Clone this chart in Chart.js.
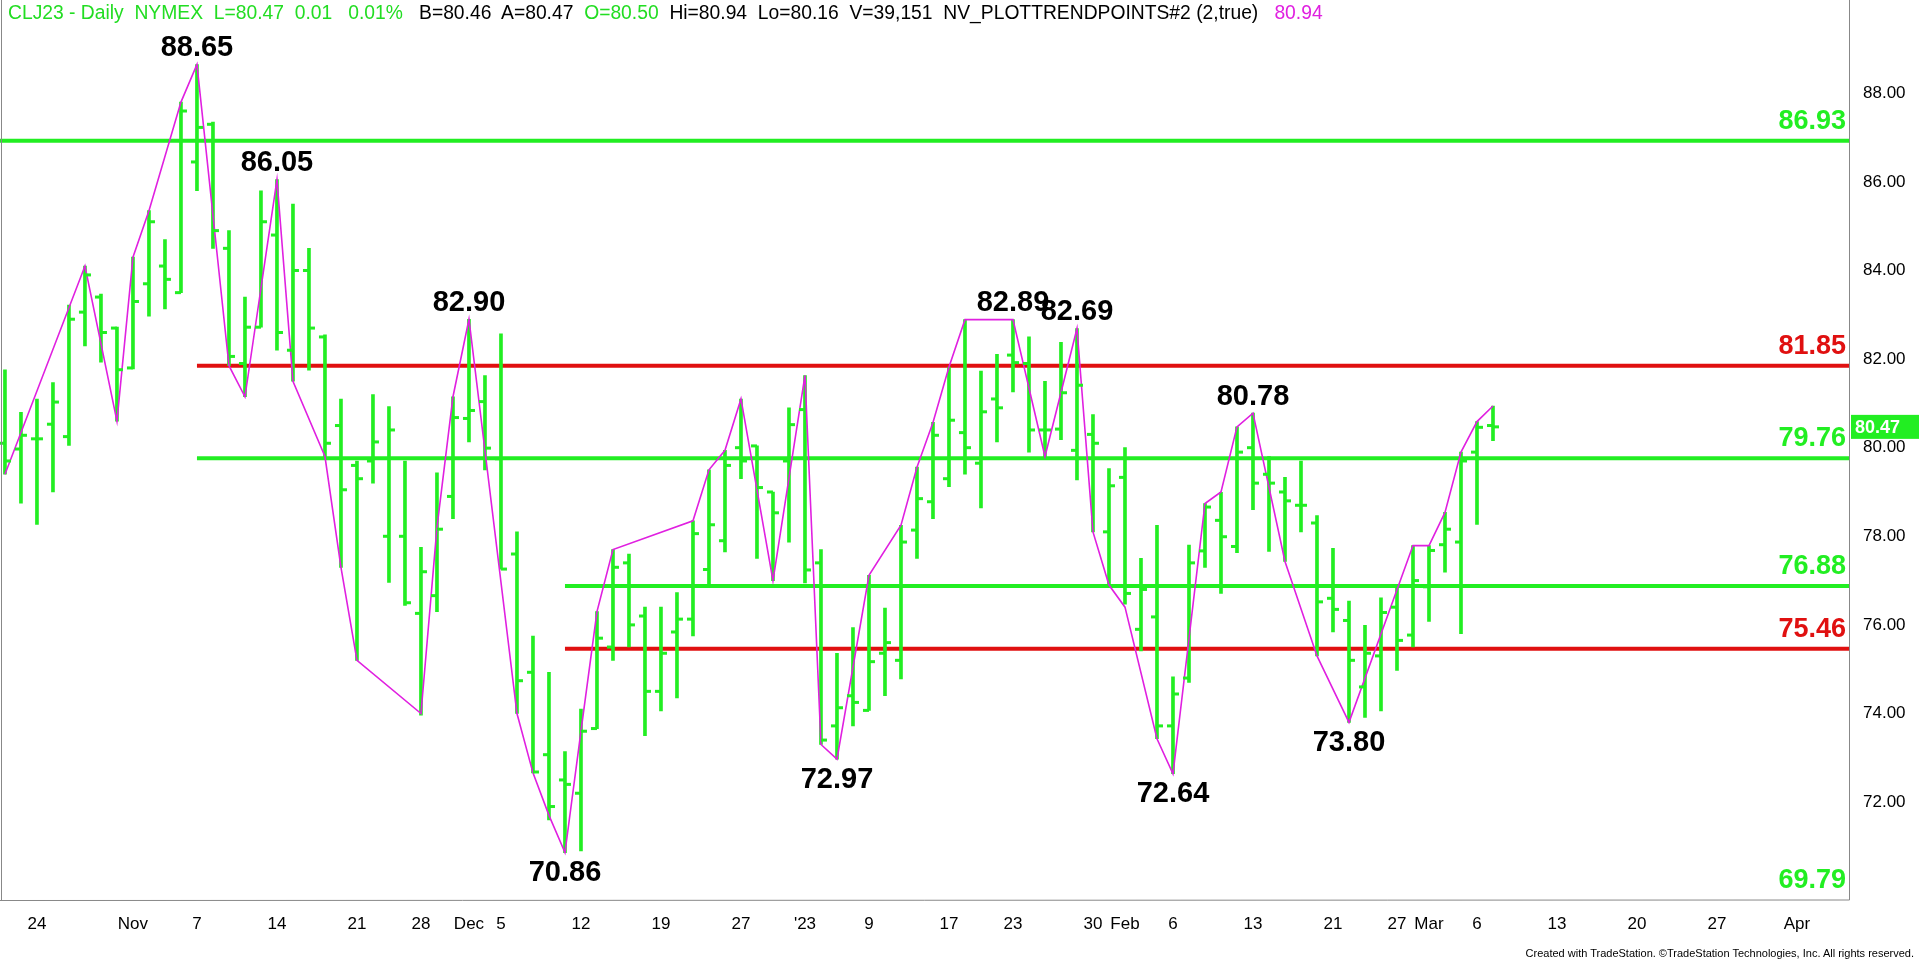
<!DOCTYPE html>
<html><head><meta charset="utf-8">
<script src="https://cdn.jsdelivr.net/npm/chart.js@4"></script>
<style>html,body{margin:0;padding:0;background:#fff;overflow:hidden}#wrap{position:absolute;left:0;top:0;width:1920px;height:963px}
#title{position:absolute;left:8px;top:2px;font:19.3px "Liberation Sans",Arial,sans-serif;white-space:pre;z-index:2}
#foot{position:absolute;right:6px;bottom:4px;font:11px "Liberation Sans",Arial,sans-serif;color:#000}</style>
</head><body><div id="wrap"><canvas id="c" width="1920" height="963"></canvas>
<div id="title"><span style="color:#22dd22">CLJ23 - Daily  NYMEX  L=80.47  0.01   0.01%</span>   <span>B=80.46  A=80.47</span>  <span style="color:#22dd22">O=80.50</span>  <span>Hi=80.94  Lo=80.16  V=39,151  NV_PLOTTRENDPOINTS#2 (2,true)</span>   <span style="color:#e020e0">80.94</span></div>
<div id="foot">Created with TradeStation. ©TradeStation Technologies, Inc. All rights reserved.</div></div>
<script>
const opens=[80.1,79.97,80.2,80.53,80.25,83.06,83.4,82.7,81.8,83.7,84.1,83.5,86.45,87.3,84.5,81.9,82.72,84.8,82.2,84.0,82.5,80.5,79.6,79.7,78.0,78.0,76.26,76.66,78.9,80.66,81.04,79.75,77.6,74.93,73.07,72.5,72.2,73.66,75.5,77.4,76.2,74.5,75.84,76.13,77.25,77.9,80.0,80.04,79.0,79.7,80.86,77.4,73.72,74.4,74.07,75.36,75.2,78.14,78.78,79.3,80.34,79.65,81.1,82.09,81.9,80.4,80.42,79.94,80.3,78.1,79.33,75.9,76.18,73.72,74.8,77.67,78.36,77.77,80.0,79.4,79.0,78.7,78.3,76.6,76.1,74.6,75.3,76.4,75.77,76.86,77.81,77.87,79.9,80.5];
const highs=[81.76,80.8,81.1,81.47,83.22,84.1,83.47,82.72,84.3,85.35,84.7,87.8,88.65,87.35,84.9,83.4,85.8,86.05,85.5,84.5,82.55,81.1,79.7,81.2,80.93,79.7,77.75,79.43,81.15,82.9,81.63,82.57,78.1,75.75,74.93,73.14,74.1,76.3,77.7,77.6,76.4,76.4,76.73,78.35,79.5,79.94,81.1,80.04,79.0,80.9,81.63,77.7,75.36,75.94,77.12,76.38,78.25,79.56,80.57,81.82,82.89,81.73,82.11,82.89,82.5,81.5,82.38,82.69,80.75,79.53,80.0,77.5,78.25,74.83,77.8,78.74,78.99,80.47,80.78,79.8,79.33,79.7,78.47,77.73,76.54,75.99,76.61,76.85,77.79,77.79,78.54,79.9,80.59,80.94];
const lows=[79.4,78.75,78.27,79.0,80.05,82.3,81.93,80.6,81.78,82.97,83.13,83.5,85.8,84.5,81.85,81.15,82.72,82.2,81.5,81.75,79.8,77.3,75.2,79.2,76.96,76.44,73.96,76.3,78.4,80.13,79.5,77.26,74.0,72.66,71.6,70.86,70.9,73.66,75.2,75.5,73.5,74.06,74.35,75.75,76.9,77.65,79.3,77.5,77.0,77.87,76.95,73.3,72.97,73.72,74.07,74.4,74.78,77.5,78.4,79.12,79.4,78.64,80.13,81.26,79.9,79.8,80.18,79.27,78.1,76.9,76.47,75.41,73.43,72.64,74.7,77.3,76.71,77.63,78.6,77.66,77.43,78.1,75.3,75.84,73.8,73.91,74.06,74.97,75.5,76.08,77.19,75.8,78.27,80.16];
const closes=[79.7,80.28,80.2,81.03,82.9,83.9,82.6,81.76,83.3,85.1,83.8,87.6,87.23,84.9,82.06,82.72,85.1,82.6,84.0,82.7,80.1,79.05,79.3,80.13,80.4,76.5,77.2,78.16,80.68,80.84,79.99,77.26,74.74,72.68,71.9,72.4,73.6,75.7,77.3,76.0,74.5,75.36,76.13,78.06,78.26,79.6,79.7,79.1,78.53,80.52,77.24,73.4,74.13,74.25,75.17,75.6,77.87,78.85,80.28,80.62,80.0,80.81,80.9,81.92,80.4,80.4,81.24,81.41,80.1,79.14,76.71,76.8,73.72,74.44,77.4,78.66,77.99,79.9,79.2,79.2,78.8,78.7,76.52,76.35,75.2,75.36,76.28,75.65,77.0,77.68,78.16,79.7,80.46,80.47];
const trendIdx=[0,5,7,8,9,11,12,14,15,17,18,20,21,22,26,27,28,29,32,33,34,35,36,37,38,43,44,45,46,48,50,51,52,54,56,57,58,59,60,63,65,67,68,69,70,72,73,75,76,77,78,80,82,84,88,89,90,91,92,93];
const trendVal=[79.4,84.1,80.6,84.3,85.35,87.8,88.65,81.85,81.15,86.05,81.5,79.8,77.3,75.2,74.0,78.2,81.15,82.9,74.0,72.66,71.7,70.86,73.6,76.3,77.7,78.35,79.5,79.94,81.1,77.0,81.63,73.3,72.97,77.12,78.25,79.56,80.57,81.82,82.89,82.89,79.8,82.69,78.1,76.9,76.4,73.43,72.64,78.74,79.0,80.47,80.78,77.43,75.3,73.8,77.79,77.79,78.54,79.9,80.59,80.94];
const pivotIdx=[12,17,29,35,52,63,67,73,78,84];
const pivotText=["88.65","86.05","82.90","70.86","72.97","82.89","82.69","72.64","80.78","73.80"];
const pivotVal=[88.65,86.05,82.9,70.86,72.97,82.89,82.69,72.64,80.78,73.8];
const pivotHigh=[true,true,true,false,false,true,true,false,true,false];
const levelVal=[86.93,81.85,79.76,76.88,75.46];
const levelStart=[-0.4,12,12,35,35];
const levelColor=["#22ee22","#e01010","#22ee22","#22ee22","#e01010"];
const xTickIdx=[2,8,12,17,22,26,29,31,36,41,46,50,54,59,63,68,70,73,78,83,87,89,92,97,102,107,112];
const xTickLabels=["24","Nov","7","14","21","28","Dec","5","12","19","27","'23","9","17","23","30","Feb","6","13","21","27","Mar","6","13","20","27","Apr"];
const yTicks=[72,74,76,78,80,82,84,86,88];
const lastPrice=80.47;
const X_MIN=-0.31,X_MAX=115.25;
const GREEN="#22ee22";

const bars=highs.map((h,i)=>({x:i,y:[lows[i],h]}));
const trend=trendIdx.map((x,i)=>({x,y:trendVal[i]}));
const levelSets=levelVal.map((v,i)=>({type:'line',data:[{x:levelStart[i],y:v},{x:X_MAX,y:v}],borderColor:levelColor[i],borderWidth:4,pointRadius:0,order:3}));

const ohlcTicks={id:'ohlc',afterDatasetsDraw(ch){const c=ch.ctx,xs=ch.scales.x,ys=ch.scales.y;c.save();c.fillStyle=GREEN;
 for(let i=0;i<opens.length;i++){const x=xs.getPixelForValue(i);c.fillRect(x-6,ys.getPixelForValue(opens[i])-1.5,6,3);c.fillRect(x,ys.getPixelForValue(closes[i])-1.5,6,3);}c.restore();}};
const labels={id:'labels',afterDraw(ch){const c=ch.ctx,xs=ch.scales.x,ys=ch.scales.y,a=ch.chartArea;c.save();
 c.font='bold 29px "Liberation Sans",Arial,sans-serif';c.fillStyle='#000';c.textAlign='center';
 pivotIdx.forEach((p,i)=>{const x=xs.getPixelForValue(p),y=ys.getPixelForValue(pivotVal[i]);c.textBaseline=pivotHigh[i]?'bottom':'top';c.fillText(pivotText[i],x,pivotHigh[i]?y-2:y+6);});
 c.font='bold 27px "Liberation Sans",Arial,sans-serif';c.textAlign='right';c.textBaseline='bottom';
 levelVal.forEach((v,i)=>{c.fillStyle=levelColor[i];c.fillText(v.toFixed(2),a.right-3,ys.getPixelForValue(v)-6);});
 c.fillStyle=GREEN;c.fillText('69.79',a.right-3,a.bottom-6);
 const yl=ys.getPixelForValue(lastPrice);c.fillStyle=GREEN;c.fillRect(a.right+2,yl-12,68,24);c.fillStyle='#fff';c.font='bold 18px "Liberation Sans",Arial,sans-serif';c.textAlign='left';c.textBaseline='middle';c.fillText(lastPrice.toFixed(2),a.right+6,yl+1);
 c.strokeStyle='#888';c.lineWidth=1;c.beginPath();c.moveTo(a.right+0.5,0);c.lineTo(a.right+0.5,a.bottom);c.lineTo(0,a.bottom+0.5);c.moveTo(1.5,0);c.lineTo(1.5,a.bottom);c.stroke();
 c.restore();}};

new Chart(document.getElementById('c'),{type:'bar',
 data:{datasets:[{type:'bar',data:bars,backgroundColor:GREEN,barThickness:3,order:2},
  {type:'line',data:trend,borderColor:'#e020e0',borderWidth:1.6,pointRadius:0,order:1},...levelSets]},
 options:{responsive:false,animation:false,events:[],layout:{padding:0},
  plugins:{legend:{display:false},tooltip:{enabled:false}},
  scales:{x:{type:'linear',min:X_MIN,max:X_MAX,offset:false,grid:{display:false},border:{display:false},
     afterBuildTicks(s){s.ticks=xTickIdx.map(v=>({value:v}));},
     afterFit(s){s.height=63;},
     ticks:{autoSkip:false,maxRotation:0,color:'#000',font:{size:17,family:'"Liberation Sans",Arial'},padding:6,callback(v){const k=xTickIdx.indexOf(v);return k>=0?xTickLabels[k]:'';}}},
   y:{position:'right',min:69.79,max:89.74,grid:{display:false},border:{display:false},
     afterBuildTicks(s){s.ticks=yTicks.map(v=>({value:v}));},
     afterFit(s){s.width=71;},
     ticks:{color:'#000',font:{size:17,family:'"Liberation Sans",Arial'},padding:6,callback:v=>v.toFixed(2)}}}},
 plugins:[ohlcTicks,labels]});
</script></body></html>
